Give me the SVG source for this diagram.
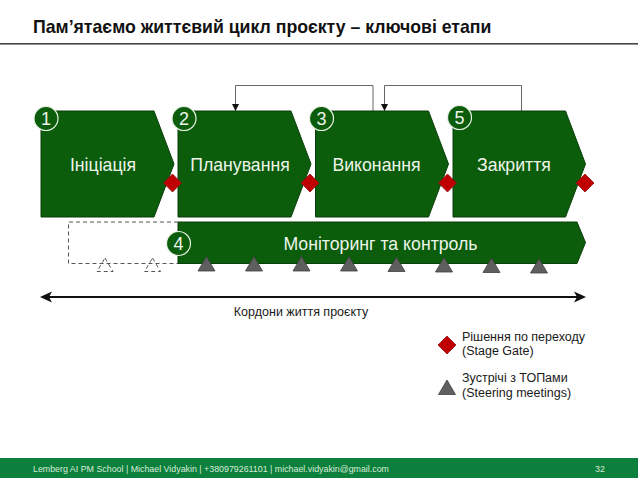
<svg xmlns="http://www.w3.org/2000/svg" width="638" height="478" viewBox="0 0 638 478">
<style>
text{font-family:"Liberation Sans",Arial,sans-serif}
.stage{fill:#0b5c0b;stroke:#0a3f0a;stroke-width:1}
.lbl{fill:#eef5ea;font-size:17.700px;text-anchor:middle}
.num{fill:#0b5c0b;stroke:#e8f2e4;stroke-width:1.2}
.numt{fill:#eef5ea;font-size:18px;text-anchor:middle}
.gate{fill:#c00000;stroke:#8a1010;stroke-width:.8}
.tri{fill:#5f5f5f;stroke:#3f3f3f;stroke-width:.8}
.dash{fill:none;stroke:#555;stroke-width:1;stroke-dasharray:4 3}
.conn{fill:none;stroke:#666;stroke-width:1}
.leg{fill:#1a1a1a;font-size:12.500px}
</style>
<defs>
<marker id="ah" markerWidth="8" markerHeight="7" refX="7" refY="3.500" orient="auto" markerUnits="userSpaceOnUse"><path d="M0 0L7 3.500L0 7z" fill="#111"/></marker>
<marker id="bh" markerWidth="13" markerHeight="12" refX="10" refY="6" orient="auto-start-reverse" markerUnits="userSpaceOnUse"><path d="M0 0.500L12 6L0 11.500L3 6z" fill="#111"/></marker>
<polygon id="g" class="gate" points="0,-9 9,0 0,9 -9,0"/>
<polygon id="t" class="tri" points="0,-7.500 8.500,7 -8.500,7"/>
</defs>
<rect width="638" height="478" fill="#fff"/>
<text x="33" y="32.500" font-size="17.700" font-weight="bold" fill="#111">Пам’ятаємо життєвий цикл проєкту – ключові етапи</text>
<rect x="0" y="43" width="638" height="1.600" fill="#444"/>
<g id="connectors">
<path class="conn" d="M373 111V85.500H235.500V111" marker-end="url(#ah)"/>
<path class="conn" d="M521.500 111V85.500H384.500V111" marker-end="url(#ah)"/>
<path d="M42 297H584" fill="none" stroke="#111" stroke-width="2" marker-start="url(#bh)" marker-end="url(#bh)"/>
<path class="dash" d="M178 222H68.500V263.500H178"/>
</g>
<g id="ghost-meetings">
<polygon class="dash" points="105,258 113,271.500 97,271.500"/>
<polygon class="dash" points="152.500,258 160.500,271.500 144.500,271.500"/>
</g>
<g id="stage-1"><polygon class="stage" points="41,111 154,111 174,164 154,217 41,217"/><text class="lbl" x="103" y="170.500">Ініціація</text></g>
<g id="stage-2"><polygon class="stage" points="178,111 291,111 311,164 291,217 178,217"/><text class="lbl" x="240" y="170.500">Планування</text></g>
<g id="stage-3"><polygon class="stage" points="315.500,111 428.500,111 448.500,164 428.500,217 315.500,217"/><text class="lbl" x="376.500" y="170.500">Виконання</text></g>
<g id="stage-5"><polygon class="stage" points="453,111 565.500,111 585.500,164 565.500,217 453,217"/><text class="lbl" x="514" y="170.500">Закриття</text></g>
<g id="stage-4"><polygon class="stage" points="178,222 577,222 585.500,242.500 577,263.500 178,263.500"/><text class="lbl" x="380.500" y="250">Моніторинг та контроль</text></g>
<g id="badge-1"><circle class="num" cx="46" cy="118.500" r="12"/><text class="numt" x="46" y="125">1</text></g>
<g id="badge-2"><circle class="num" cx="184" cy="118.500" r="12"/><text class="numt" x="184" y="125">2</text></g>
<g id="badge-3"><circle class="num" cx="321.500" cy="118.500" r="12"/><text class="numt" x="321.500" y="125">3</text></g>
<g id="badge-5"><circle class="num" cx="459.500" cy="117.500" r="12"/><text class="numt" x="459.500" y="124">5</text></g>
<g id="badge-4"><circle class="num" cx="178.500" cy="243.500" r="12"/><text class="numt" x="178.500" y="250">4</text></g>
<g id="gates"><use href="#g" x="172.500" y="183"/><use href="#g" x="310" y="183"/><use href="#g" x="447.500" y="183"/><use href="#g" x="585" y="183"/></g>
<g id="meetings"><use href="#t" x="206.500" y="264"/><use href="#t" x="254" y="264"/><use href="#t" x="301.500" y="264"/><use href="#t" x="349" y="264"/><use href="#t" x="396.500" y="264.500"/><use href="#t" x="444" y="265"/><use href="#t" x="491.500" y="265.500"/><use href="#t" x="539" y="266"/></g>
<text x="301" y="316" font-size="12.500" fill="#1a1a1a" text-anchor="middle">Кордони життя проєкту</text>
<g id="legend-gate"><use href="#g" x="447" y="345"/><text class="leg" x="462" y="340.500">Рішення по переходу</text><text class="leg" x="462" y="355">(Stage Gate)</text></g>
<g id="legend-meeting"><use href="#t" x="447" y="387.500"/><text class="leg" x="462" y="381.500">Зустрічі з ТОПами</text><text class="leg" x="462" y="397">(Steering meetings)</text></g>
<g id="footer"><rect x="0" y="458" width="638" height="20" fill="#0b7f3c"/><text x="33" y="471.500" font-size="8.850" fill="#d8ecd8">Lemberg AI PM School | Michael Vidyakin | +380979261101 | michael.vidyakin@gmail.com</text><text x="600" y="471.500" font-size="8.850" fill="#d8ecd8" text-anchor="middle">32</text></g>
</svg>
